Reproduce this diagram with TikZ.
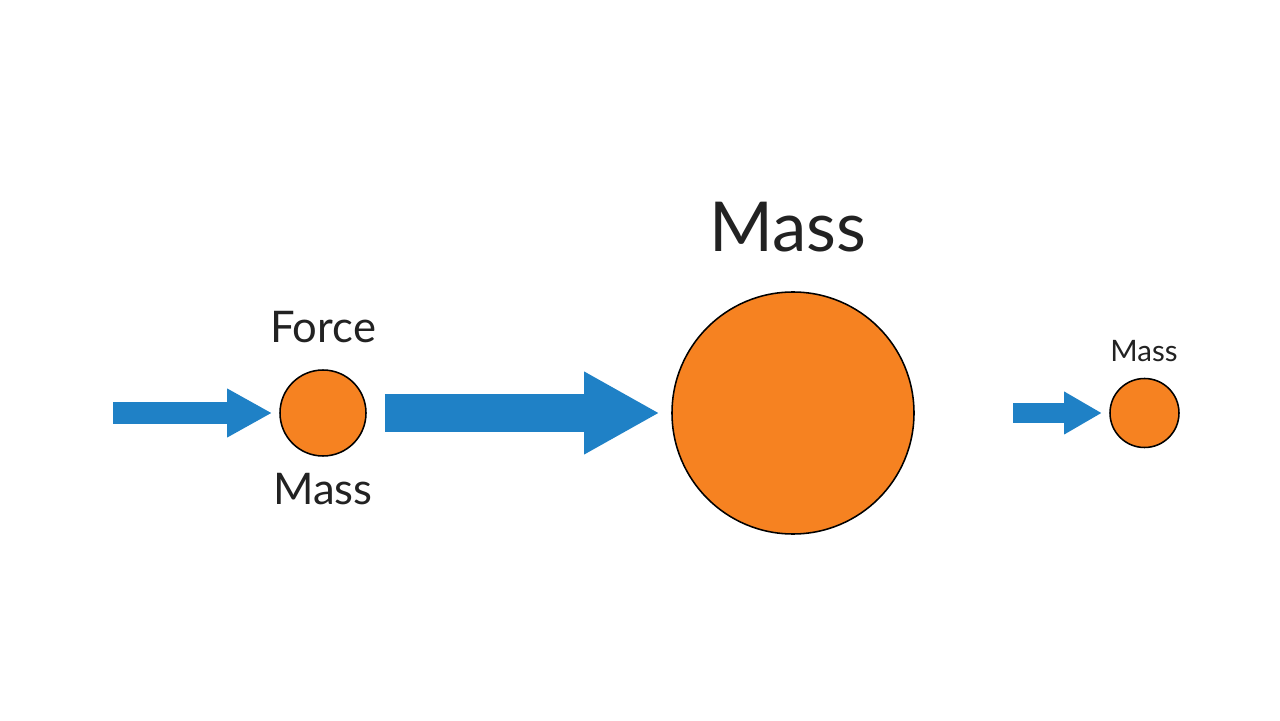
\documentclass[tikz,border=0pt]{standalone}
\usepackage{fontspec}
\setmainfont{Lato}
\usepackage{tikz}
\usetikzlibrary{arrows.meta,positioning}
\usepackage{xcolor}
\definecolor{pushblue}{RGB}{31,129,198}
\definecolor{massorange}{RGB}{246,130,33}
\definecolor{inkgray}{RGB}{34,34,34}

\begin{document}
\begin{tikzpicture}[
    mass/.style={circle, draw=black, line width=1.1pt, fill=massorange,
        inner sep=0pt},
    lbl/.style={anchor=base, text=inkgray, inner sep=0pt},
    push/.style={draw=pushblue, line cap=butt}
]
    \useasboundingbox (0,0) rectangle (32,18);
    \fill[white] (0,0) rectangle (32,18);

    % masses, small to large
    \node[mass, minimum size=2.15cm] (m1) at (8.075,7.675) {};
    \node[mass, minimum size=6.05cm] (m2) at (19.825,7.675) {};
    \node[mass, minimum size=1.725cm] (m3) at (28.6125,7.675) {};

    % labels
    \node[lbl, font=\fontsize{31}{36}\selectfont] (f1) at (8.075,9.425) {Force};
    \node[lbl, font=\fontsize{31}{36}\selectfont] (l1) at (8.075,5.4) {Mass};
    \node[lbl, font=\fontsize{49}{56}\selectfont] (l2) at (19.69,11.7) {Mass};
    \node[lbl, font=\fontsize{21}{25}\selectfont] (l3) at (28.6,8.95) {Mass};

    % free ends of the incoming arrows
    \coordinate (in1) at (2.825,7.675);
    \coordinate (in3) at (25.325,7.675);

    % arrows
    \draw[push, line width=0.56cm,
        -{Triangle[length=1.1cm, width=1.225cm, line width=0pt]},
        shorten >=0.2cm] (in1) -- (m1);
    \draw[push, line width=0.95cm,
        -{Triangle[length=1.85cm, width=2.075cm, line width=0pt]},
        shorten <=0.45cm, shorten >=0.325cm] (m1) -- (m2);
    \draw[push, line width=0.5cm,
        -{Triangle[length=0.925cm, width=1.075cm, line width=0pt]},
        shorten >=0.2cm] (in3) -- (m3);
\end{tikzpicture}
\end{document}
